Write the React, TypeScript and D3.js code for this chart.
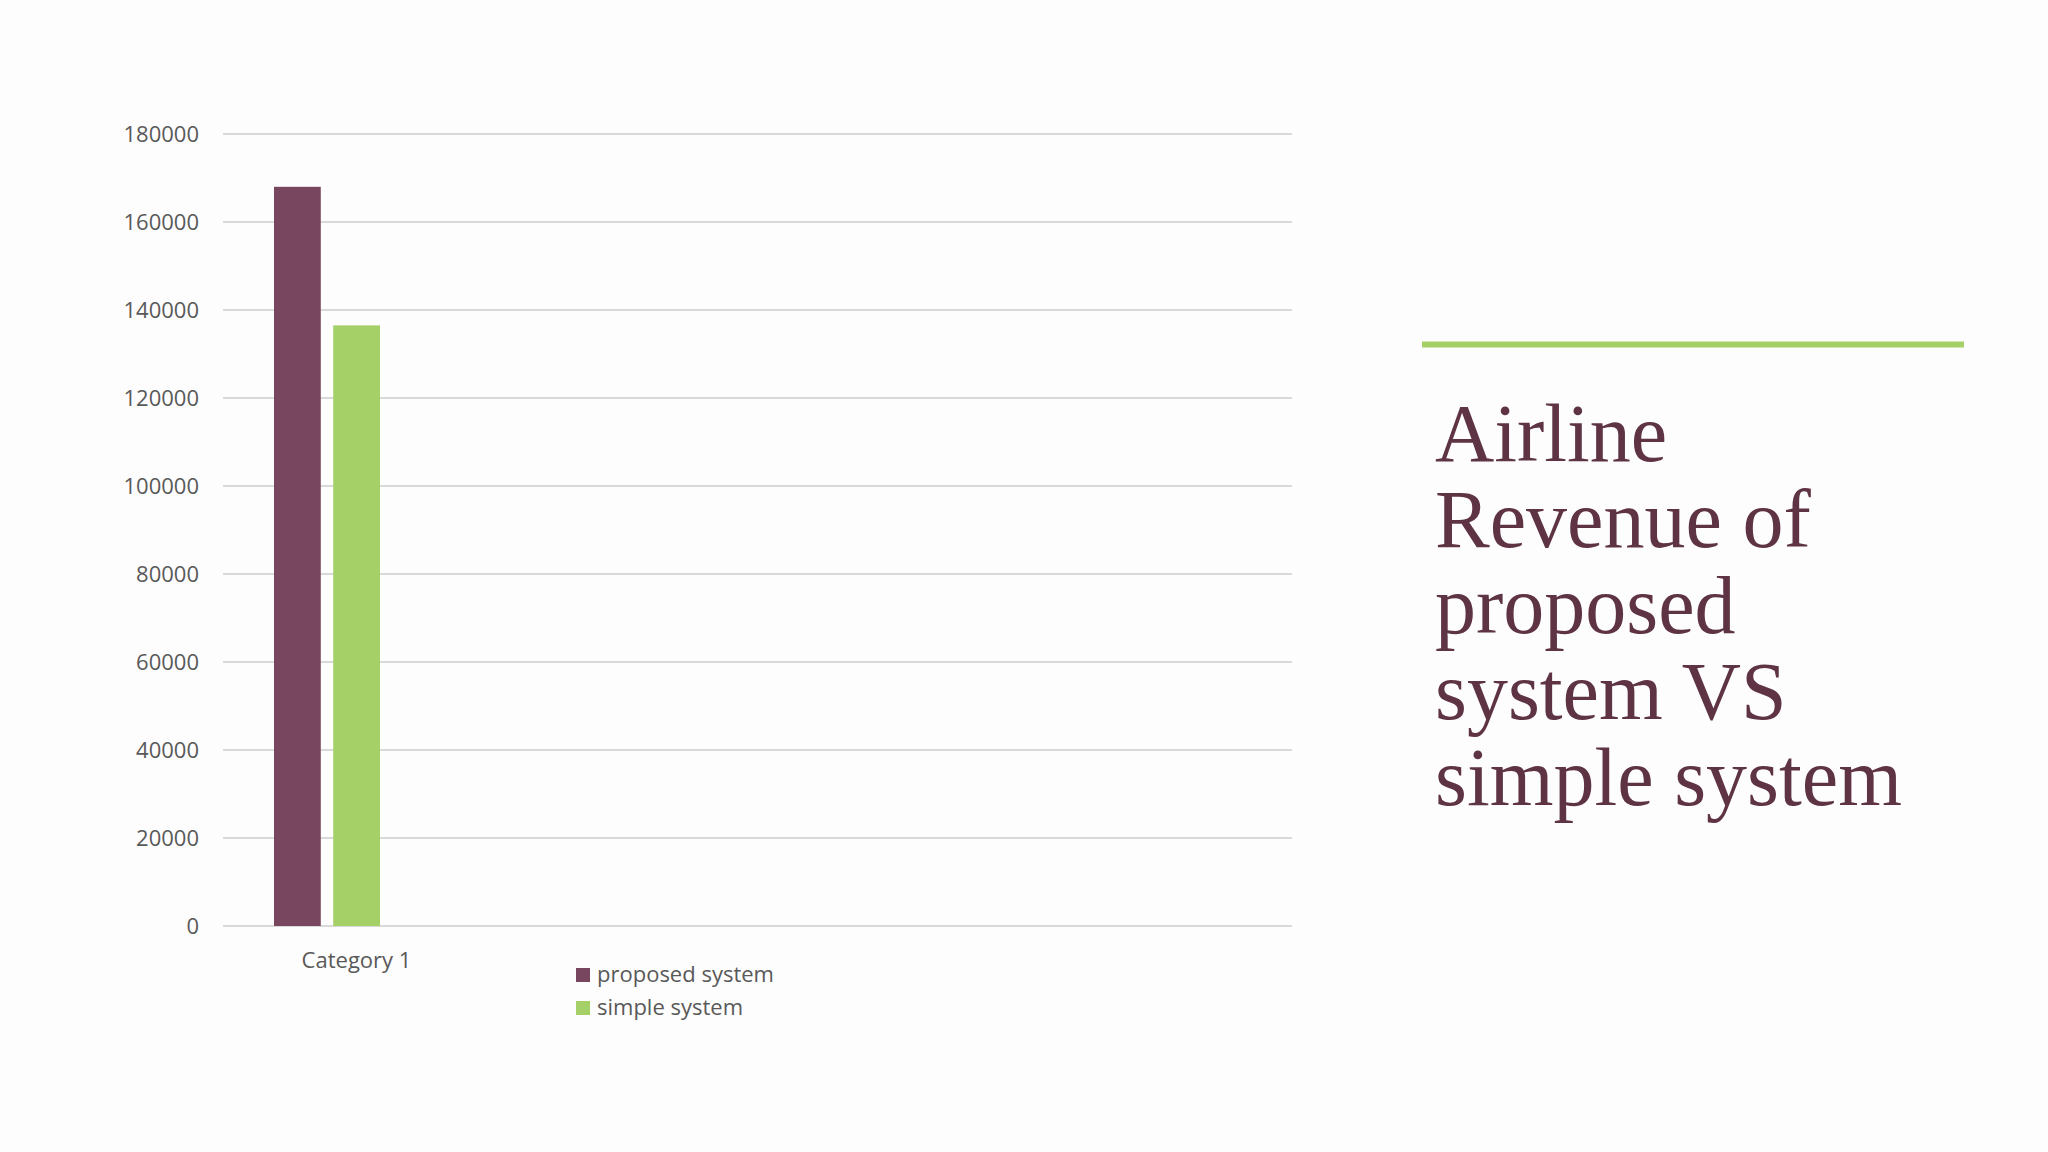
import { useEffect } from "react";
import * as d3 from "d3";

const categories = ["Category 1"];
const seriesNames = ["proposed system", "simple system"];
const proposedValues = [168000];
const simpleValues = [136500];
const yTicks = [0, 20000, 40000, 60000, 80000, 100000, 120000, 140000, 160000, 180000];
const titleLines = ["Airline", "Revenue of", "proposed", "system VS", "simple system"];

const colors = ["#79465f", "#a5d068"];
const W = 2048;
const H = 1152;
const plot = { left: 223, right: 1292, top: 134, bottom: 926, band: 267 };
const labelFont = "'Open Sans', 'Noto Sans', sans-serif";

export default function App() {
  useEffect(() => {
    document.body.style.margin = "0";
  }, []);

  const y = d3.scaleLinear().domain([0, 180000]).range([plot.bottom, plot.top]);
  const x = d3.scaleBand().domain(categories).range([plot.left, plot.left + plot.band]);
  // bars sit left in the band, like the source chart
  const x1 = d3.scaleBand().domain(seriesNames).range([51, 157]).paddingInner(0.21);
  const series = [proposedValues, simpleValues];

  return (
    <svg width={W} height={H} style={{ display: "block", background: "#fdfdfd" }}>
      {yTicks.map((t) => (
        <g key={t}>
          <line x1={plot.left} x2={plot.right} y1={y(t)} y2={y(t)} stroke="#d9d9d9" strokeWidth={2} />
          <text x={199} y={y(t)} dy="0.36em" textAnchor="end" fontFamily={labelFont} fontSize={22} fill="#595959">
            {t}
          </text>
        </g>
      ))}
      {categories.map((c, i) =>
        series.map((vals, s) => (
          <rect
            key={c + s}
            x={(x(c) as number) + (x1(seriesNames[s]) as number)}
            width={x1.bandwidth()}
            y={y(vals[i])}
            height={y(0) - y(vals[i])}
            fill={colors[s]}
          />
        ))
      )}
      {categories.map((c) => (
        <text key={c} x={(x(c) as number) + x.bandwidth() / 2} y={968} textAnchor="middle" fontFamily={labelFont} fontSize={22} fill="#595959">
          {c}
        </text>
      ))}
      {seriesNames.map((n, i) => (
        <g key={n} transform={`translate(576,${968 + i * 33})`}>
          <rect width={14} height={14} fill={colors[i]} />
          <text x={21} y={14} fontFamily={labelFont} fontSize={22} fill="#595959">
            {n}
          </text>
        </g>
      ))}
      <rect x={1422} y={341.5} width={542} height={6} fill="#a5d068" />
      {titleLines.map((l, i) => (
        <text key={l} x={1435} y={461 + i * 85.9} fontFamily="'Liberation Serif', 'DejaVu Serif', serif" fontSize={82} fill="#5e3344">
          {l}
        </text>
      ))}
    </svg>
  );
}
